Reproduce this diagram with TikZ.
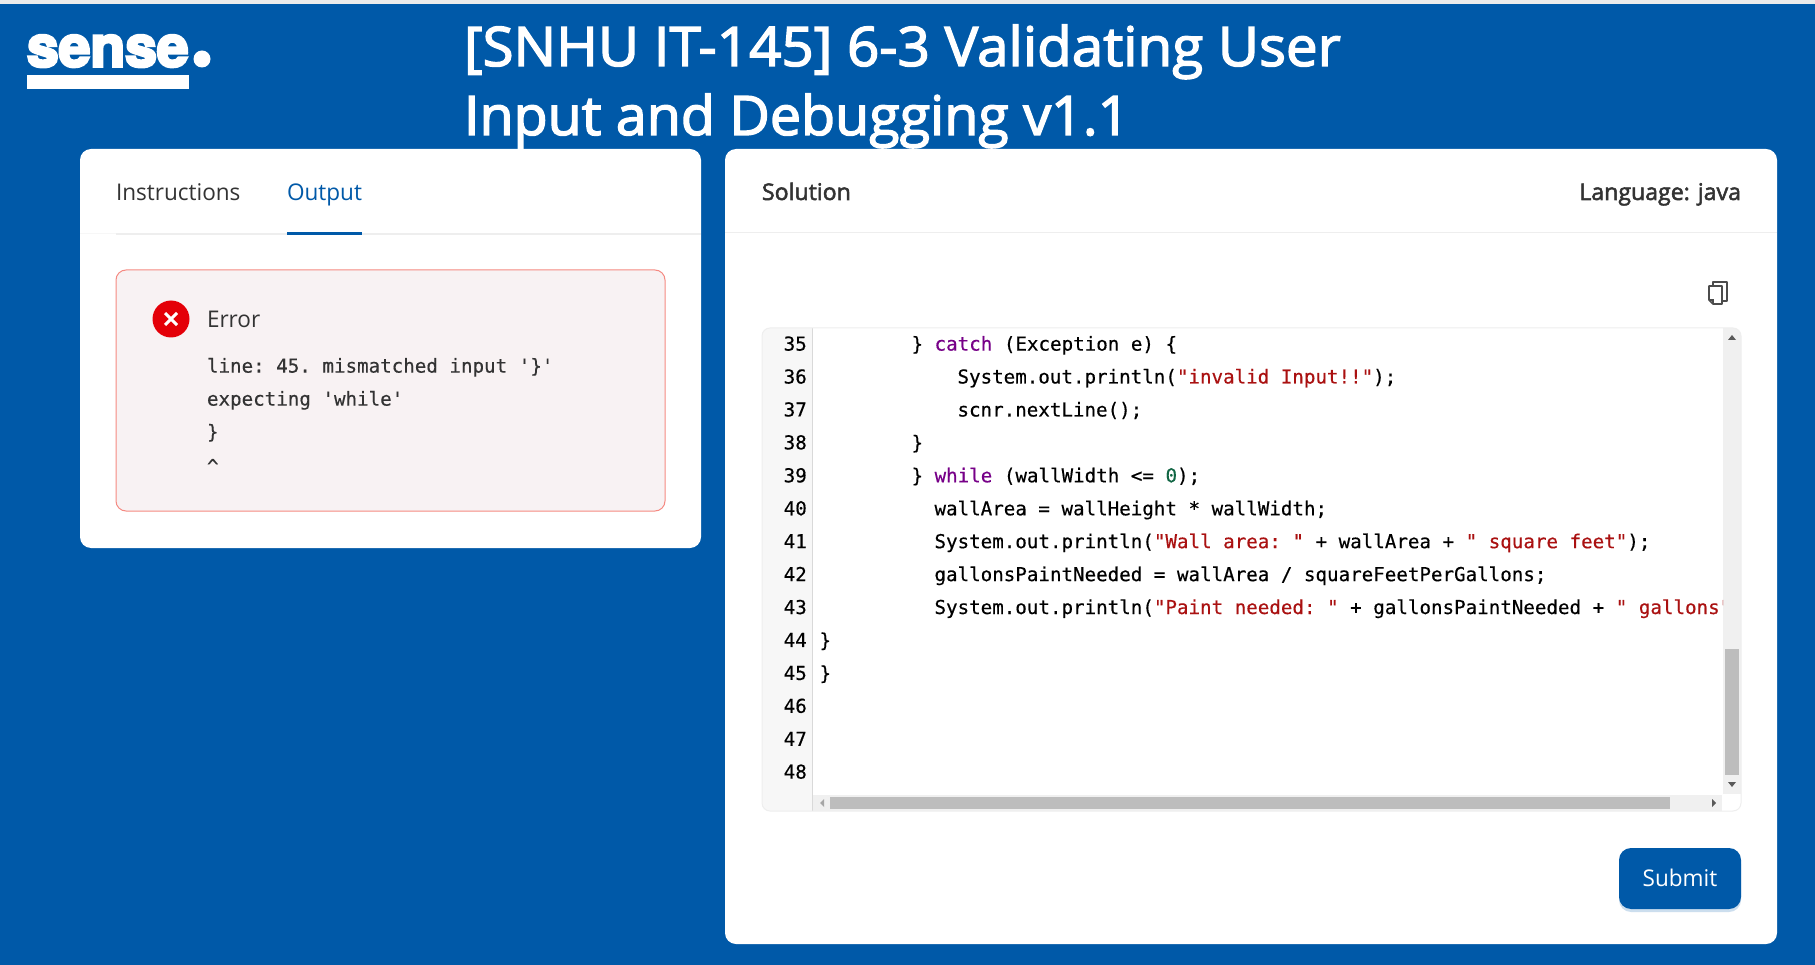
\documentclass[tikz,border=0pt]{standalone}
\usepackage{graphicx}
\usepackage{fontspec}
\setmainfont{Open Sans}
\newfontfamily\uifont{Open Sans}[FakeStretch=0.98]
\newfontfamily\titlefont{Open Sans}[FakeStretch=1.03,FakeBold=2.6]
\newfontfamily\semifont{Open Sans}[FakeStretch=1.005,FakeBold=2.2]
\newfontfamily\logofont{TeX Gyre Heros}[BoldFeatures={FakeBold=5}]
\newfontfamily\codefont{DejaVu Sans Mono}[FakeBold=0.4]
\definecolor{brand}{HTML}{0059A8}
\definecolor{ink}{HTML}{333333}
\definecolor{rulegrey}{HTML}{EEEEEE}
\definecolor{errfill}{HTML}{F8F2F3}
\definecolor{errline}{HTML}{F58A82}
\definecolor{errred}{HTML}{E40008}
\definecolor{kwpurple}{HTML}{770088}
\definecolor{strred}{HTML}{AA1111}
\definecolor{numgreen}{HTML}{116644}
\definecolor{guttergrey}{HTML}{F7F7F7}
\definecolor{barbg}{HTML}{F0F0F0}
\definecolor{thumb}{HTML}{BDBDBD}
\newcommand{\cKw}[1]{\textcolor{kwpurple}{#1}}
\newcommand{\cStr}[1]{\textcolor{strred}{#1}}
\newcommand{\cNum}[1]{\textcolor{numgreen}{#1}}
\tikzset{
 x=1pt,y=-1pt,
 txt/.style={anchor=base west,inner sep=0pt,outer sep=0pt},
 ui/.style={txt,text=ink,font=\uifont\fontsize{23}{23}\selectfont},
 semi/.style={txt,text=ink,font=\semifont\fontsize{23}{23}\selectfont},
 titletxt/.style={txt,text=white,font=\titlefont\fontsize{54.5}{54.5}\selectfont},
 code/.style={txt,text=black,font=\codefont\frenchspacing\fontsize{19.18}{19.18}\selectfont},
 errcode/.style={txt,text=ink,font=\codefont\frenchspacing\fontsize{19.18}{19.18}\selectfont},
 lnum/.style={anchor=base east,inner sep=0pt,text=black,font=\codefont\fontsize{19.18}{19.18}\selectfont},
 card/.style={fill=white,rounded corners=11pt},
}
\begin{document}
\begin{tikzpicture}
\useasboundingbox (0,0) rectangle (1815,965);
% page
\fill[brand] (0,0) rectangle (1815,965);
\fill[white!92!black] (0,0) rectangle (1815,4);
% logo
\node[txt,text=white,font=\logofont\bfseries\fontsize{57}{57}\selectfont] (logo) at (27,66.5) {sense};
\fill[white] (202,59) circle (8.5);
\fill[white] (27,75) rectangle (189,89);
% title
\node[titletxt] (t1) at (464,66) {\scalebox{1.007}[1]{[SNHU IT-145] 6-3 Validating User}};
\node[titletxt] (t2) at (464,135) {\scalebox{0.99}[1]{Input and Debugging v1.1}};
% left card
\fill[card] (80,149) rectangle (701,548);
\fill[rulegrey] (116,233) rectangle (701,235);
\fill[rulegrey!50!white] (80,233) rectangle (116,234);
\node[ui] (tabA) at (116,201) {Instructions};
\node[ui,text=brand] (tabB) at (287,201) {Output};
\fill[brand] (287,232) rectangle (362,235);
% error box
\draw[errline,fill=errfill,line width=1pt,rounded corners=10pt] (116,270) rectangle (665,511);
\fill[errred] (171,319) circle (18.5);
\draw[white,line width=3pt] (165,313) -- (177,325) (177,313) -- (165,325);
\node[ui] (errT) at (207,328) {Error};
\node[errcode] (e1) at (207,372.6) {line: 45. mismatched input '\}'};
\node[errcode] (e2) at (207,405.6) {expecting 'while'};
\node[errcode] (e3) at (207,438.5) {\}};
\node[errcode] (e4) at (207,473) {\textasciicircum};
% right card
\fill[card] (725,149) rectangle (1777,944);
\fill[rulegrey] (725,232.5) rectangle (1777,233.5);
\node[semi] (sol) at (762,200) {Solution};
\node[semi,anchor=base east] (lang) at (1741,200) {Language: java};
% copy icon
\draw[black!70,line width=1.6pt,line join=round] (1713,286) -- (1713,282) -- (1727,282) -- (1727,301) -- (1723,301);
\draw[black!70,line width=1.6pt,line join=round,fill=white] (1709,286) -- (1722,286) -- (1722,304) -- (1713,304) -- (1709,300) -- cycle;
\draw[black!70,line width=1.2pt] (1709,300) -- (1713,300) -- (1713,304);
% code box
\fill[white,rounded corners=8pt] (762,328) rectangle (1741,811);
\begin{scope}
 \clip[rounded corners=8pt] (762,328) rectangle (1741,811);
 \fill[guttergrey] (762,328) rectangle (812,811);
 \fill[black!15] (812,328) rectangle (813,811);
 \fill[barbg] (1723,328) rectangle (1741,794);
 \fill[barbg] (813,795) rectangle (1722,811);
 \fill[thumb] (1725,649) rectangle (1739,775);
 \fill[thumb] (830,797) rectangle (1670,809);
\end{scope}
\draw[rulegrey,line width=1pt,rounded corners=8pt] (762,328) rectangle (1741,811);
% scrollbar arrows
\fill[black!65] (1732,335) -- (1736,340) -- (1728,340) -- cycle;
\fill[black!65] (1732,787) -- (1736,782) -- (1728,782) -- cycle;
\fill[black!35] (820,803) -- (824,799) -- (824,807) -- cycle;
\fill[black!65] (1716,803) -- (1712,799) -- (1712,807) -- cycle;
% line numbers
\foreach \n [count=\i from 0] in {35,...,48}{
  \node[lnum] (ln\n) at (807,{350.6+32.93*\i}) {\n};
}
% code lines
\begin{scope}
 \clip (813,329) rectangle (1723,795);
 \node[code] (c35) at (911.5,350.6) {\} \cKw{catch} (Exception e) \{};
 \node[code] (c36) at (957.5,383.5) {System.out.println(\cStr{"invalid Input!!"});};
 \node[code] (c37) at (957.5,416.5) {scnr.nextLine();};
 \node[code] (c38) at (911.5,449.4) {\}};
 \node[code] (c39) at (911.5,482.3) {\} \cKw{while} (wallWidth <= \cNum{0});};
 \node[code] (c40) at (934.5,515.3) {wallArea = wallHeight * wallWidth;};
 \node[code] (c41) at (934.5,548.2) {System.out.println(\cStr{"Wall area: "} + wallArea + \cStr{" square feet"});};
 \node[code] (c42) at (934.5,581.1) {gallonsPaintNeeded = wallArea / squareFeetPerGallons;};
 \node[code] (c43) at (934.5,614.0) {System.out.println(\cStr{"Paint needed: "} + gallonsPaintNeeded + \cStr{" gallons"});};
 \node[code] (c44) at (819.5,647.0) {\}};
 \node[code] (c45) at (819.5,679.9) {\}};
\end{scope}
% submit
\fill[brand!20!white,rounded corners=12pt] (1619,852) rectangle (1741,912);
\fill[brand,rounded corners=12pt] (1619,848) rectangle (1741,909);
\node[ui,anchor=base,text=white] (sub) at (1680,886) {Submit};
\end{tikzpicture}
\end{document}
